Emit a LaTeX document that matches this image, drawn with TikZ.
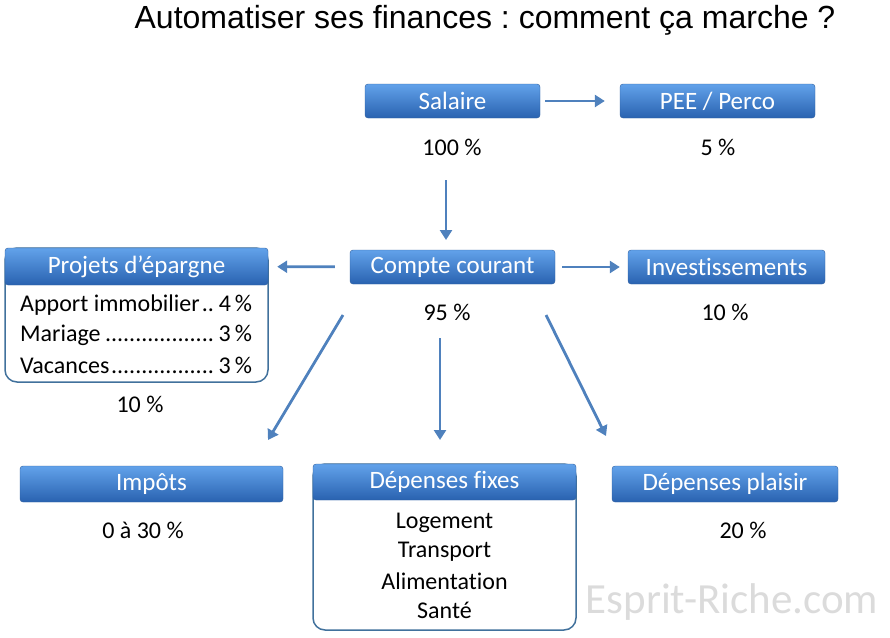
\documentclass[tikz,border=0pt]{standalone}
\usepackage{fontspec}
\setmainfont{Carlito}[Ligatures={TeX,NoCommon}]
\newfontfamily\titlefont{Liberation Sans}
\usetikzlibrary{arrows.meta,calc}
\frenchspacing
\definecolor{hdtop}{HTML}{62A2EA}
\definecolor{hdbot}{HTML}{2962B0}
\definecolor{hdrim}{HTML}{2F5F9E}
\definecolor{flowblue}{HTML}{4F81BD}
\definecolor{rimblue}{HTML}{41719C}
\newcommand{\leaderrow}[2]{\makebox[232pt][l]{#1\leaders\hbox{.}\hfill#2}}
\tikzstyle{header}=[draw=hdrim, rounded corners=3pt, top color=hdtop, bottom color=hdbot, text=white, font=\fontsize{25}{27}\selectfont, minimum height=34pt, inner sep=0pt]
\tikzstyle{panel}=[draw=rimblue, line width=1.5pt, rounded corners=12pt, fill=white, inner sep=0pt]
\tikzstyle{pct}=[font=\fontsize{24}{26}\selectfont, inner sep=0pt]
\tikzstyle{rowtext}=[font=\fontsize{24}{26}\selectfont, inner sep=0pt]
\tikzstyle{flow}=[draw=flowblue, line width=2.8pt, -{Triangle[length=10pt,width=12pt]}]

\begin{document}
\begin{tikzpicture}[x=1pt,y=-1pt]
	\useasboundingbox (0,0) rectangle (890,637);
	\node[font=\titlefont\fontsize{32}{34}\selectfont] (title) at (485,20) {Automatiser ses finances : comment ça marche ?};
	
	\node[header, minimum width=175pt] (sal) at (452.5,101) {Salaire};
	\node[pct] (salpct) at (452,147) {100 \%};
	\node[header, minimum width=195pt] (pee) at (717.5,101) {PEE / Perco};
	\node[pct] (peepct) at (718,147) {5 \%};
	
	\node[header, minimum width=205pt] (cc) at (452.5,267) {Compte courant};
	\node[pct] (ccpct) at (447,312) {95 \%};
	\node[header, minimum width=197pt] (inv) at (726.5,267) {Investissements};
	\node[pct] (invpct) at (725,312) {10 \%};
	
	\node[panel, minimum width=263pt, minimum height=134pt] (projbox) at (136.5,315) {};
	\node[header, minimum width=263pt, minimum height=37pt] (proj) at (136.5,266.5) {Projets d’épargne};
	\node[rowtext, anchor=west] (row1) at (20,305) {\leaderrow{Apport immobilier}{4\,\%}};
	\node[rowtext, anchor=west] (row2) at (20,335) {\leaderrow{Mariage}{3\,\%}};
	\node[rowtext, anchor=west] (row3) at (20,365) {\leaderrow{Vacances}{3\,\%}};
	\node[pct] (projpct) at (140,404) {10 \%};
	
	\node[header, minimum width=263pt, minimum height=36pt] (imp) at (151.5,484) {Impôts};
	\node[pct] (imppct) at (143,530) {0 à 30 \%};
	
	\node[panel, minimum width=263pt, minimum height=166pt] (fixbox) at (444.5,547) {};
	\node[header, minimum width=263pt, minimum height=36pt] (fix) at (444.5,482) {Dépenses fixes};
	\node[rowtext] (fix1) at (444.5,523) {Logement};
	\node[rowtext] (fix2) at (444.5,552) {Transport};
	\node[rowtext] (fix3) at (444.5,581) {Alimentation};
	\node[rowtext] (fix4) at (444.5,610) {Santé};
	
	\node[header, minimum width=226pt, minimum height=36pt] (plai) at (725,484) {Dépenses plaisir};
	\node[pct] (plaipct) at (743,530) {20 \%};
	
	\node[font=\fontsize{43}{45}\selectfont, text=gray!28] (mark) at (732,602) {Esprit-Riche.com};
	
	\coordinate (saldown) at ($(sal)+(-6.5,79)$);
	\coordinate (ccup) at ($(cc)+(-6.5,-27)$);
	\coordinate (ccleft) at ($(cc)+(-109.5,48)$);
	\coordinate (impin) at ($(imp)+(116.5,-44)$);
	\coordinate (ccmid) at ($(cc)+(-12.5,71)$);
	\coordinate (fixin) at ($(fix)+(-4.5,-42)$);
	\coordinate (ccright) at ($(cc)+(93.5,48)$);
	\coordinate (plaiin) at ($(plai)+(-119,-48)$);
	
	\draw[flow, shorten <=5pt, shorten >=15pt] (sal) -- (pee);
	\draw[flow] (saldown) -- (ccup);
	\draw[flow, shorten <=7pt, shorten >=8pt] (cc) -- (inv);
	\draw[flow, shorten <=15pt, shorten >=9pt] (cc) -- (proj);
	\draw[flow] (ccleft) -- (impin);
	\draw[flow] (ccmid) -- (fixin);
	\draw[flow] (ccright) -- (plaiin);
\end{tikzpicture}
\end{document}
